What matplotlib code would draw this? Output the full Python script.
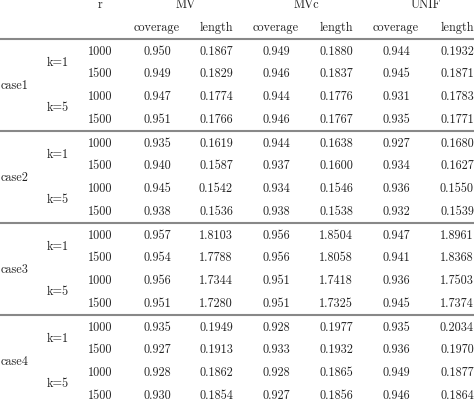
import matplotlib
matplotlib.use("Agg")
import matplotlib.pyplot as plt

plt.rcParams['font.family'] = ['serif']
plt.rcParams['font.serif'] = ['cmr10', 'DejaVu Serif']

cases = ["case1", "case2", "case3", "case4"]
ks = ["k=1", "k=5"]
rs = ["1000", "1500"]
methods = ["MV", "MVc", "UNIF"]
subheads = ["coverage", "length"]
mv_cov = ["0.950","0.949","0.947","0.951","0.935","0.940","0.945","0.938",
          "0.957","0.954","0.956","0.951","0.935","0.927","0.928","0.930"]
mv_len = ["0.1867","0.1829","0.1774","0.1766","0.1619","0.1587","0.1542","0.1536",
          "1.8103","1.7788","1.7344","1.7280","0.1949","0.1913","0.1862","0.1854"]
mvc_cov = ["0.949","0.946","0.944","0.946","0.944","0.937","0.934","0.938",
           "0.956","0.956","0.951","0.951","0.928","0.933","0.928","0.927"]
mvc_len = ["0.1880","0.1837","0.1776","0.1767","0.1638","0.1600","0.1546","0.1538",
           "1.8504","1.8058","1.7418","1.7325","0.1977","0.1932","0.1865","0.1856"]
unif_cov = ["0.944","0.945","0.931","0.935","0.927","0.934","0.936","0.932",
            "0.947","0.941","0.936","0.945","0.935","0.936","0.949","0.946"]
unif_len = ["0.1932","0.1871","0.1783","0.1771","0.1680","0.1627","0.1550","0.1539",
            "1.8961","1.8368","1.7503","1.7374","0.2034","0.1970","0.1877","0.1864"]

W, H = 474, 401
fig = plt.figure(figsize=(W/100, H/100), dpi=100)
ax = fig.add_axes([0, 0, 1, 1])
ax.set_xlim(0, W); ax.set_ylim(H, 0); ax.axis('off')
fs = 8.8
def t(x, y, s, ha='center'):
    ax.text(x, y, s, ha=ha, va='center', fontsize=fs, color='#222222')

t(100, 5, "r")
for x, m in zip([186, 306, 426], methods):
    t(x, 5, m)
colx = [157, 216, 276, 336, 396, 457]
for i, x in enumerate(colx):
    t(x, 28, subheads[i % 2])

for y in [39, 131, 223, 315]:
    ax.plot([0, W], [y, y], color='#888888', lw=1.5)

cols = [mv_cov, mv_len, mvc_cov, mvc_len, unif_cov, unif_len]
y0, dy, blk = 51.5, 22.7, 92
for c, case in enumerate(cases):
    base = y0 + c * blk
    t(15, base + 1.5 * dy, case)
    for k in range(2):
        t(58, base + (2 * k + 0.5) * dy, ks[k])
        for r in range(2):
            y = base + (2 * k + r) * dy
            idx = c * 4 + 2 * k + r
            t(100, y, rs[r])
            for x, col in zip(colx, cols):
                t(x, y, col[idx])

fig.savefig("out.png", dpi=100)
